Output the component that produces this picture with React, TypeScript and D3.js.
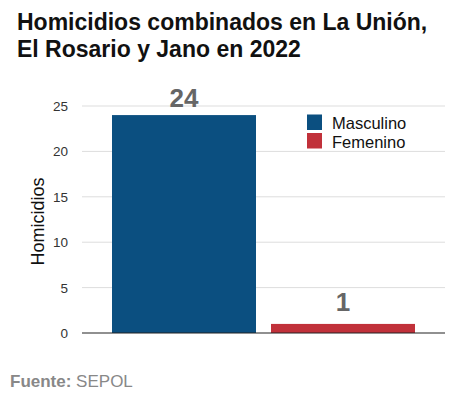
import React from "react";
import * as d3 from "d3";

const categories = ["Masculino", "Femenino"];
const values = [24, 1];
const colors = ["#0b4f80", "#c1313a"];
const yTicks = [0, 5, 10, 15, 20, 25];

export default function App() {
  const W = 474, H = 399;
  const x0 = 82, x1 = 445, yTop = 106, yBot = 333;
  const y = d3.scaleLinear().domain([0, 25]).range([yBot, yTop]);
  const x = d3.scaleBand().domain(categories).range([112, 415]).paddingInner(15 / 159).paddingOuter(0);
  const font = "'Liberation Sans', Arial, Helvetica, sans-serif";
  return (
    <svg width={W} height={H} style={{ position: "absolute", left: 0, top: 0, background: "#fff" }} fontFamily={font}>
      <text x={17} y={30} fontSize={23} fontWeight="bold" fill="#111">Homicidios combinados en La Unión,</text>
      <text x={17} y={57} fontSize={23} fontWeight="bold" fill="#111">El Rosario y Jano en 2022</text>
      {yTicks.map((t) => (
        <g key={t}>
          {t !== 0 && <line x1={x0} x2={x1} y1={y(t)} y2={y(t)} stroke="#ddd" strokeWidth={1} />}
          <text x={68} y={y(t) + 5} fontSize={13.5} textAnchor="end" fill="#333">{t}</text>
        </g>
      ))}
      <text transform={`translate(44,${(yTop + yBot) / 2 + 2}) rotate(-90)`} fontSize={18} textAnchor="middle" fill="#111">Homicidios</text>
      {categories.map((c, i) => (
        <g key={c}>
          <rect x={x(c)} y={y(values[i])} width={x.bandwidth()} height={yBot - y(values[i])} fill={colors[i]} />
          <text x={(x(c) as number) + x.bandwidth() / 2} y={Math.min(y(values[i]) - 8, yBot - 22)} fontSize={26} fontWeight="bold" textAnchor="middle" fill="#666">{values[i]}</text>
        </g>
      ))}
      <line x1={x0} x2={x1} y1={yBot} y2={yBot} stroke="#222" strokeWidth={1.2} />
      {categories.map((c, i) => (
        <g key={"l" + c}>
          <rect x={307} y={114.5 + i * 18.5} width={15} height={15.5} fill={colors[i]} />
          <text x={332} y={129 + i * 18.5} fontSize={16.5} fill="#111">{c}</text>
        </g>
      ))}
      <text x={10} y={387} fontSize={17} fill="#888">
        <tspan fontWeight="bold">Fuente:</tspan> SEPOL
      </text>
    </svg>
  );
}
